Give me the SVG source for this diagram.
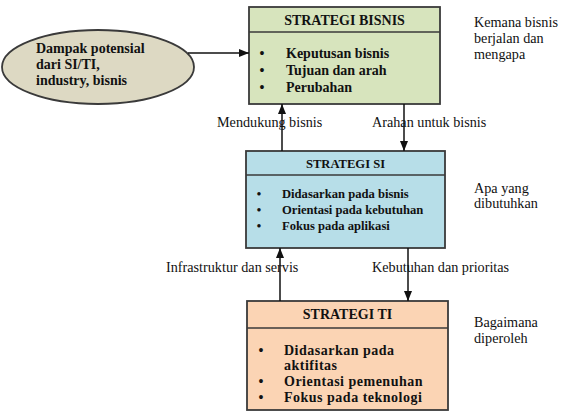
<svg xmlns="http://www.w3.org/2000/svg" width="562" height="420" viewBox="0 0 562 420">
<style>
  .box { stroke: #3a3a3a; stroke-width: 1.8; }
  .div { stroke: #3a3a3a; stroke-width: 1.3; }
  .b { font-family: "Liberation Serif", "Times New Roman", serif; font-weight: bold; fill: #111; }
  .r { font-family: "Liberation Serif", "Times New Roman", serif; fill: #111; font-size: 14.2px; }
  .con { stroke: #111; stroke-width: 1.5; fill: none; }
</style>
<defs>
  <marker id="arrBig" viewBox="0 0 10 10" refX="10" refY="5" markerWidth="10" markerHeight="8" markerUnits="userSpaceOnUse" orient="auto" preserveAspectRatio="none">
    <path d="M0,0 L10,5 L0,10 z" fill="#111"/>
  </marker>
</defs>
<rect width="562" height="420" fill="#ffffff"/>

<g id="dampak">
  <ellipse cx="98" cy="67" rx="96" ry="37" fill="#DDD9C3" class="box"/>
  <text class="b" font-size="14" x="36" y="53">Dampak potensial</text>
  <text class="b" font-size="14" x="36" y="69">dari SI/TI,</text>
  <text class="b" font-size="14" x="36" y="85">industry, bisnis</text>
</g>

<g id="strategi-bisnis">
  <rect x="249" y="7" width="191" height="97" fill="#D7E4BD" class="box"/>
  <line x1="249" y1="32" x2="440" y2="32" class="div"/>
  <text class="b" font-size="14" x="344.5" y="25" text-anchor="middle">STRATEGI BISNIS</text>
  <text class="b" font-size="14" x="262" y="58" text-anchor="middle">•</text>
  <text class="b" font-size="14" x="286" y="58">Keputusan bisnis</text>
  <text class="b" font-size="14" x="262" y="75" text-anchor="middle">•</text>
  <text class="b" font-size="14" x="286" y="75">Tujuan dan arah</text>
  <text class="b" font-size="14" x="262" y="92" text-anchor="middle">•</text>
  <text class="b" font-size="14" x="286" y="92">Perubahan</text>
</g>

<g id="strategi-si">
  <rect x="246" y="151" width="199" height="97" fill="#B7DEE8" class="box"/>
  <line x1="246" y1="175" x2="445" y2="175" class="div"/>
  <text class="b" font-size="12.6" x="345.5" y="168" text-anchor="middle">STRATEGI SI</text>
  <text class="b" font-size="12.6" x="259" y="198" text-anchor="middle">•</text>
  <text class="b" font-size="12.6" x="282" y="198">Didasarkan pada bisnis</text>
  <text class="b" font-size="12.6" x="259" y="214" text-anchor="middle">•</text>
  <text class="b" font-size="12.6" x="282" y="214">Orientasi pada kebutuhan</text>
  <text class="b" font-size="12.6" x="259" y="230" text-anchor="middle">•</text>
  <text class="b" font-size="12.6" x="282" y="230">Fokus pada aplikasi</text>
</g>

<g id="strategi-ti">
  <rect x="247" y="301" width="201" height="109" fill="#FBD4B4" class="box"/>
  <line x1="247" y1="328" x2="448" y2="328" class="div"/>
  <text class="b" font-size="14" x="347.5" y="319" text-anchor="middle">STRATEGI TI</text>
  <text class="b" font-size="14" x="261" y="355" text-anchor="middle">•</text>
  <text class="b" font-size="14" x="284" y="355" letter-spacing="0.5">Didasarkan pada</text>
  <text class="b" font-size="14" x="284" y="370" letter-spacing="0.5">aktifitas</text>
  <text class="b" font-size="14" x="261" y="386" text-anchor="middle">•</text>
  <text class="b" font-size="14" x="284" y="386" letter-spacing="0.5">Orientasi pemenuhan</text>
  <text class="b" font-size="14" x="261" y="402" text-anchor="middle">•</text>
  <text class="b" font-size="14" x="284" y="402" letter-spacing="0.5">Fokus pada teknologi</text>
</g>

<g id="side-notes">
  <text class="r" font-size="14.6" x="474" y="27">Kemana bisnis</text>
  <text class="r" font-size="14.6" x="474" y="43">berjalan dan</text>
  <text class="r" font-size="14.6" x="474" y="59">mengapa</text>
  <text class="r" font-size="14.6" x="474" y="193">Apa yang</text>
  <text class="r" font-size="14.6" x="474" y="208">dibutuhkan</text>
  <text class="r" font-size="14.6" x="474" y="327">Bagaimana</text>
  <text class="r" font-size="14.6" x="474" y="343">diperoleh</text>
</g>

<g id="connectors">
  <line x1="188" y1="53" x2="249" y2="53" class="con" marker-end="url(#arrBig)"/>
  <line x1="282" y1="151" x2="282" y2="104" class="con" marker-end="url(#arrBig)"/>
  <line x1="404" y1="104" x2="404" y2="151" class="con" marker-end="url(#arrBig)"/>
  <line x1="280" y1="301" x2="280" y2="248" class="con" marker-end="url(#arrBig)"/>
  <line x1="408" y1="248" x2="408" y2="301" class="con" marker-end="url(#arrBig)"/>
  <text class="r" x="217" y="127">Mendukung bisnis</text>
  <text class="r" x="372" y="127">Arahan untuk bisnis</text>
  <text class="r" x="166" y="272">Infrastruktur dan servis</text>
  <text class="r" x="372" y="272">Kebutuhan dan prioritas</text>
</g>
</svg>
